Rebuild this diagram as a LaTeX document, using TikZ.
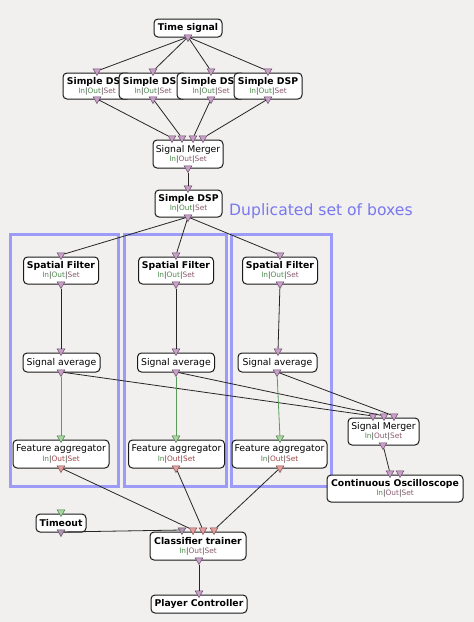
\documentclass[tikz,border=0pt]{standalone}
\usepackage{fontspec}
\setmainfont{DejaVu Sans}
\usetikzlibrary{shapes.geometric}
\definecolor{bgc}{HTML}{F1F0EE}
\definecolor{ingreen}{HTML}{4E8A4E}
\definecolor{outmauve}{HTML}{8A5A70}
\definecolor{outred}{HTML}{A04848}
\definecolor{barc}{HTML}{303030}
\definecolor{trip}{HTML}{C8A0C8}
\definecolor{tripd}{HTML}{6A4A6A}
\definecolor{trig}{HTML}{A8D8A0}
\definecolor{trigd}{HTML}{4A7A4A}
\definecolor{trir}{HTML}{E0A0A0}
\definecolor{trird}{HTML}{8A4A4A}
\definecolor{trigp}{HTML}{A898B0}
\definecolor{bluerect}{HTML}{9C9CF8}
\definecolor{bluetext}{HTML}{7878F0}
\definecolor{linegreen}{HTML}{5A9A5A}
\newcommand\ttl{\fontsize{9.3}{10}\selectfont}
\newcommand\sbl{\fontsize{7.4}{8}\selectfont}
\newcommand\ios[2]{\textcolor{ingreen}{In}\textcolor{barc}{|}\textcolor{#1}{Out}\textcolor{barc}{|}\textcolor{#2}{Set}}
% one-line box: name cx cy w h title
\newcommand\oboxa[6]{%
  \node[obx, minimum width=#4pt, minimum height=#5pt] (#1) at (#2,#3) {};
  \node[txt] (#1-t) at (#2,#3) {\ttl #6};}
% two-line box: name cx cy w h title sub
\newcommand\oboxb[7]{%
  \node[obx, minimum width=#4pt, minimum height=#5pt] (#1) at (#2,#3) {};
  \node[txt] (#1-t) at (#2,#3-4.5) {\ttl #6};
  \node[txt] (#1-s) at (#2,#3+5.5) {\sbl #7};}
\tikzset{
  obx/.style={draw=black!90, fill=white, rounded corners=4pt, line width=1pt, inner sep=0pt},
  txt/.style={inner sep=0pt, text=black},
  trb/.style={regular polygon, regular polygon sides=3, shape border rotate=180, minimum size=9pt, inner sep=0pt, line width=0.5pt},
  tp/.style={trb, fill=trip, draw=tripd},
  tg/.style={trb, fill=trig, draw=trigd},
  tr/.style={trb, fill=trir, draw=trird},
  tgp/.style={trb, fill=trigp, draw=tripd},
  conn/.style={draw=black!85, line width=0.8pt},
  gconn/.style={draw=linegreen, line width=0.8pt},
  dup/.style={draw=bluerect, line width=3pt},
}
\begin{document}
\begin{tikzpicture}[x=1pt,y=-1pt]
\fill[bgc] (0,0) rectangle (474,622);
\useasboundingbox (0,0) rectangle (474,622);
% duplicated set rectangles
\draw[dup] (10,234) rectangle (118,486);
\draw[dup] (124.5,234) rectangle (226,486);
\draw[dup] (231,234) rectangle (331,486);
\node[anchor=west, inner sep=0pt, text=bluetext] (duptext) at (229,211.5) {\fontsize{15.6}{17}\selectfont Duplicated set of boxes};
% boxes
\oboxa{ts}{188}{28}{68}{18}{\bfseries Time signal}
\oboxb{d1}{97}{86}{68}{26}{\bfseries Simple DSP}{\ios{ingreen}{outmauve}}
\oboxb{d2}{153}{86}{68}{26}{\bfseries Simple DSP}{\ios{ingreen}{outmauve}}
\oboxb{d3}{211}{86}{68}{26}{\bfseries Simple DSP}{\ios{ingreen}{outmauve}}
\oboxb{d4}{268}{86}{68}{26}{\bfseries Simple DSP}{\ios{ingreen}{outmauve}}
\oboxb{sm1}{188}{154}{70}{28}{Signal Merger}{\ios{outmauve}{outmauve}}
\oboxb{dsp}{188.5}{203.5}{67}{27}{\bfseries Simple DSP}{\ios{ingreen}{outmauve}}
\oboxb{sf1}{61}{270.5}{75}{27}{\bfseries Spatial Filter}{\ios{ingreen}{outmauve}}
\oboxb{sf2}{176}{270.5}{75}{27}{\bfseries Spatial Filter}{\ios{ingreen}{outmauve}}
\oboxb{sf3}{280}{270.5}{75}{27}{\bfseries Spatial Filter}{\ios{ingreen}{outmauve}}
\oboxa{sa1}{61.5}{362.5}{77}{19}{Signal average}
\oboxa{sa2}{176}{362.5}{77}{19}{Signal average}
\oboxa{sa3}{277.5}{362.5}{79}{19}{Signal average}
\oboxb{fa1}{61}{454}{96}{28}{Feature aggregator}{\ios{outred}{outred}}
\oboxb{fa2}{176.5}{454}{96}{28}{Feature aggregator}{\ios{outred}{outred}}
\oboxb{fa3}{279.5}{454}{95}{28}{Feature aggregator}{\ios{outred}{outred}}
\oboxb{sm2}{383.5}{431.5}{71}{27}{Signal Merger}{\ios{outmauve}{outmauve}}
\oboxb{co}{395}{488.5}{136}{27}{\bfseries Continuous Oscilloscope}{\ios{outmauve}{outmauve}}
\oboxa{to}{61}{523}{50}{18}{\bfseries Timeout}
\oboxb{ct}{198}{546}{96}{28}{\bfseries Classifier trainer}{\ios{outmauve}{outmauve}}
\oboxa{pc}{199}{604}{96}{18}{\bfseries Player Controller}
% ports
\node[tp] (ts-o) at (188,37) {};
\foreach \n/\x in {d1/97,d2/153,d3/211,d4/268}{
  \node[tp] (\n-i) at (\x,71) {};
  \node[tp] (\n-o) at (\x,99) {};
}
\node[tp] (sm1-i1) at (172,138) {};
\node[tp] (sm1-i2) at (182,138) {};
\node[tp] (sm1-i3) at (193,138) {};
\node[tp] (sm1-i4) at (203,138) {};
\node[tp] (sm1-o) at (188,168) {};
\node[tp] (dsp-i) at (188,188) {};
\node[tp] (dsp-o) at (188,217) {};
\foreach \n/\x in {1/61,2/176,3/280}{
  \node[tp] (sf\n-i) at (\x,255) {};
  \node[tp] (sf\n-o) at (\x,284) {};
}
\node[tp] (sa1-i) at (61,351) {};
\node[tp] (sa1-o) at (61,372) {};
\node[tp] (sa2-i) at (176,351) {};
\node[tp] (sa2-o) at (176,372) {};
\node[tp] (sa3-i) at (278,351) {};
\node[tp] (sa3-o) at (277,372) {};
\foreach \n/\x in {1/61,2/176,3/280}{
  \node[tg] (fa\n-i) at (\x,438) {};
  \node[tr] (fa\n-o) at (\x,468) {};
}
\node[tp] (sm2-i1) at (373,416) {};
\node[tp] (sm2-i2) at (384,416) {};
\node[tp] (sm2-i3) at (394,416) {};
\node[tp] (sm2-o) at (383,445) {};
\node[tp] (co-i1) at (390,473) {};
\node[tp] (co-i2) at (400,473) {};
\node[tg] (to-i) at (61,512) {};
\node[tgp] (to-o) at (61,532) {};
\node[tgp] (ct-i1) at (182,530) {};
\node[tr] (ct-i2) at (193,530) {};
\node[tr] (ct-i3) at (203,530) {};
\node[tr] (ct-i4) at (214,530) {};
\node[tp] (ct-o) at (199,560) {};
\node[tp] (pc-i) at (199,593) {};
% connections
\foreach \n in {d1,d2,d3,d4} \draw[conn] (ts-o) -- (\n-i);
\draw[conn] (d1-o) -- (sm1-i1);
\draw[conn] (d2-o) -- (sm1-i2);
\draw[conn] (d3-o) -- (sm1-i3);
\draw[conn] (d4-o) -- (sm1-i4);
\draw[conn] (sm1-o) -- (dsp-i);
\foreach \n in {1,2,3}{
  \draw[conn] (dsp-o) -- (sf\n-i);
  \draw[conn] (sf\n-o) -- (sa\n-i);
  \draw[gconn] (sa\n-o) -- (fa\n-i);
  \draw[conn] (sa\n-o) -- (sm2-i\n);
}
\draw[conn] (sm2-o) -- (co-i1);
\draw[conn] (fa1-o) -- (ct-i2);
\draw[conn] (fa2-o) -- (ct-i3);
\draw[conn] (fa3-o) -- (ct-i4);
\draw[conn] (to-o) -- (ct-i1);
\draw[conn] (ct-o) -- (pc-i);
\end{tikzpicture}
\end{document}
